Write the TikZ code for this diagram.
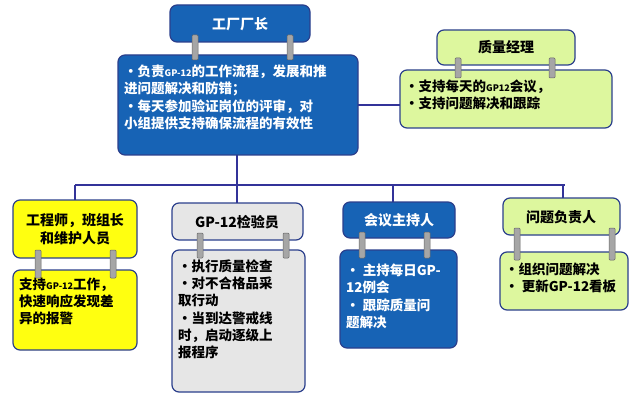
\documentclass[tikz,border=0pt]{standalone}
\usepackage{fontspec}
\setmainfont{Noto Sans CJK SC}
\begin{document}
\begin{tikzpicture}[x=1pt,y=-1pt,
  box/.style={draw=#1, line width=1.2pt, rounded corners=7pt},
  hang/.style={draw=black!60, fill=gray!70, line width=0.5pt, rounded corners=1pt},
  conn/.style={draw=blue!50!black!80, line width=1.6pt},
  txt/.style={font=\bfseries\fontsize{13.5}{17}\selectfont, align=left, anchor=north west, inner sep=0pt},
  hd/.style={font=\bfseries\fontsize{14}{18}\selectfont, align=center, inner sep=0pt}]
\definecolor{dblue}{HTML}{1763B5}
\definecolor{lgreen}{HTML}{DDF79E}
\definecolor{yel}{HTML}{FFFF10}
\definecolor{lgray}{HTML}{E6E6E6}
\definecolor{edge}{HTML}{2B3F8C}
\useasboundingbox (0,0) rectangle (640,401);
% connectors
\coordinate (m) at (237,155);
\coordinate (j) at (237,185);
\draw[conn] (m) -- (j);
\draw[conn] (75,185) -- (565,185);
\draw[conn] (75,185) -- (75,200);
\draw[conn] (237,185) -- (237,203);
\draw[conn] (393,185) -- (393,202);
\draw[conn] (563,185) -- (563,198);
\draw[conn] (358,105) -- (400,105);
% top
\draw[box=edge, fill=dblue] (170,5) rectangle (310,42);
\node[hd, text=white] (t1) at (240,24) {工厂厂长};
\draw[box=edge, fill=dblue] (118,55) rectangle (358,155);
\node[txt, text=white] (t2) at (124,65) {•负责{\fontsize{9}{12}\selectfont GP-12}的工作流程，发展和推\\进问题解决和防错；\\[1pt]•每天参加验证岗位的评审，对\\小组提供支持确保流程的有效性};
\foreach \x in {195,290} \draw[hang] (\x-3,35) rectangle (\x+3,60);
% quality manager
\draw[box=edge, fill=lgreen] (437,30) rectangle (575,65);
\node[hd] (q1) at (506,47) {质量经理};
\draw[box=edge, fill=lgreen] (400,70) rectangle (612,128);
\node[txt] (q2) at (405,80) {•支持每天的{\fontsize{9}{12}\selectfont GP12}会议，\\•支持问题解决和跟踪};
\foreach \x in {458,552} \draw[hang] (\x-3,58) rectangle (\x+3,78);
% yellow
\draw[box=edge, fill=yel] (13,200) rectangle (137,258);
\node[hd] (y1) at (75,229) {工程师，班组长\\和维护人员};
\draw[box=edge, fill=yel] (13,270) rectangle (137,350);
\node[txt] (y2) at (19,278) {支持{\fontsize{9}{12}\selectfont GP-12}工作，\\快速响应发现差\\异的报警};
\foreach \x in {38,113} \draw[hang] (\x-3,250) rectangle (\x+3,278);
% gray
\draw[box=edge, fill=lgray] (172,203) rectangle (303,240);
\node[hd] (g1) at (237,222) {GP-12检验员};
\draw[box=edge, fill=lgray] (172,250) rectangle (305,392);
\node[txt] (g2) at (178,260) {•执行质量检查\\•对不合格品采\\取行动\\[1pt]•当到达警戒线\\时，启动逐级上\\报程序};
\foreach \x in {200,286} \draw[hang] (\x-3,233) rectangle (\x+3,258);
% blue
\draw[box=edge, fill=dblue] (343,202) rectangle (455,238);
\node[hd, text=white] (b1) at (399,220) {会议主持人};
\draw[box=edge, fill=dblue] (340,250) rectangle (457,348);
\node[txt, text=white] (b2) at (346,264) {•\ 主持每日GP-\\12例会\\[1pt]•\ 跟踪质量问\\题解决};
\foreach \x in {362,427} \draw[hang] (\x-3,232) rectangle (\x+3,258);
% green
\draw[box=edge, fill=lgreen] (503,198) rectangle (620,235);
\node[hd] (p1) at (561,217) {问题负责人};
\draw[box=edge, fill=lgreen] (500,252) rectangle (628,310);
\node[txt] (p2) at (505,263) {•组织问题解决\\•\ 更新GP-12看板};
\foreach \x in {517,612} \draw[hang] (\x-3,228) rectangle (\x+3,260);
\end{tikzpicture}
\end{document}
